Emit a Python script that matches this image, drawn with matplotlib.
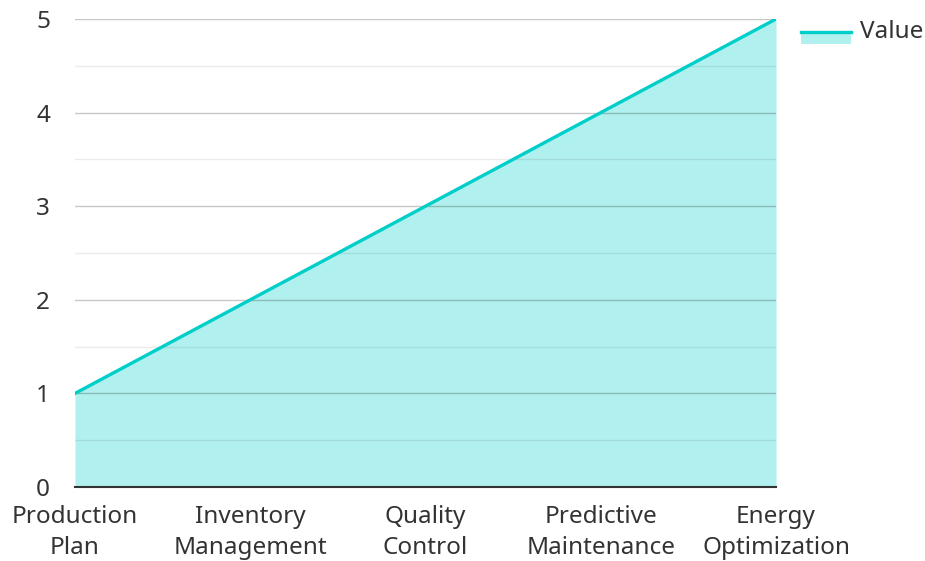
import matplotlib.pyplot as plt
from matplotlib.lines import Line2D
from matplotlib.patches import Rectangle

plt.rcParams['font.family'] = ['Noto Sans', 'DejaVu Sans']

categories = ['Production\nPlan', 'Inventory\nManagement', 'Quality\nControl',
              'Predictive\nMaintenance', 'Energy\nOptimization']
values = [1, 2, 3, 4, 5]

line_color = '#00cec9'
fill_color = '#b0f0ee'

fig = plt.figure(figsize=(9.25, 5.61), dpi=100)
ax = fig.add_axes([75 / 925, 1 - 487 / 561, (776 - 75) / 925, (487 - 19) / 561])

x = range(len(categories))
ax.fill_between(x, values, 0, color=fill_color, linewidth=0, zorder=1)
ax.plot(x, values, color=line_color, linewidth=2.4, zorder=3)

ax.set_xlim(0, len(categories) - 1)
ax.set_ylim(0, 5)
ax.set_yticks(range(6))
ax.set_yticks([i + 0.5 for i in range(5)], minor=True)
ax.set_xticks(list(x))
ax.set_xticklabels(categories)

ax.grid(True, which='major', axis='y', color='black', alpha=0.22, linewidth=1, zorder=2)
ax.grid(True, which='minor', axis='y', color='black', alpha=0.08, linewidth=1, zorder=2)

for side in ['top', 'right', 'left']:
    ax.spines[side].set_visible(False)
ax.spines['bottom'].set_color('#333333')
ax.spines['bottom'].set_linewidth(1.5)
ax.spines['bottom'].set_zorder(4)

ax.tick_params(axis='both', which='both', length=0, labelsize=17.5, colors='#333333')
ax.tick_params(axis='y', pad=18)
ax.tick_params(axis='x', pad=13)
for lab in ax.get_xticklabels():
    lab.set_linespacing(1.38)

# legend
fig.add_artist(Rectangle((801 / 925, 1 - 44 / 561), 50 / 925, 12 / 561,
                         transform=fig.transFigure, color=fill_color, linewidth=0))
fig.add_artist(Line2D([801 / 925, 851 / 925], [1 - 32 / 561, 1 - 32 / 561],
                      transform=fig.transFigure, color=line_color, linewidth=2.4))
fig.text(860 / 925, 1 - 32 / 561, 'Value', fontsize=17.5, color='#333333', va='center')

fig.savefig('out.png', dpi=100)
